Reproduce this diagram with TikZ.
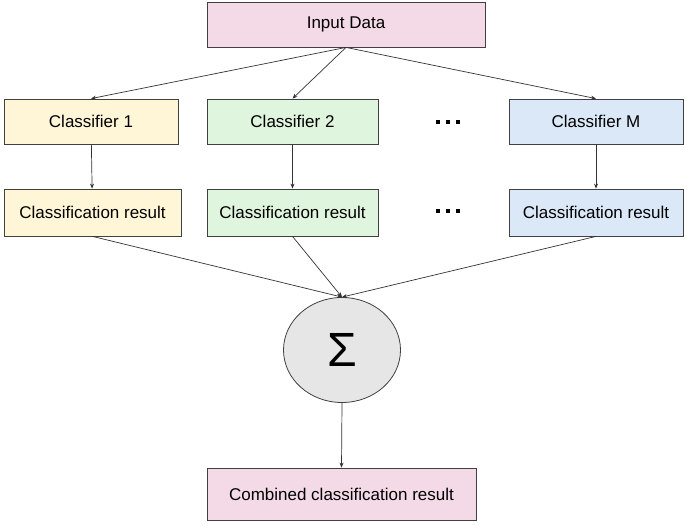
\documentclass[tikz,border=0pt]{standalone}
\usepackage{fontspec}
\setmainfont{Liberation Sans}
\usetikzlibrary{arrows.meta,shapes.geometric}
\definecolor{pinkf}{HTML}{F4DAE7}
\definecolor{yellowf}{HTML}{FFF5D7}
\definecolor{greenf}{HTML}{E0F5DD}
\definecolor{bluef}{HTML}{DBE8F8}
\definecolor{grayf}{HTML}{E6E6E6}
\definecolor{edge}{HTML}{404040}
\tikzset{
  box/.style={draw=edge, line width=0.8pt, rectangle, inner sep=0pt, font=\fontsize{17}{20}\selectfont},
  conn/.style={draw=black!80, line width=0.7pt, -{Stealth[length=5pt,width=4pt]}},
  dotmark/.style={fill=black, minimum size=4pt, inner sep=0pt, rectangle}
}
\begin{document}
\begin{tikzpicture}[x=1pt,y=-1pt]
\useasboundingbox (0,0) rectangle (685,525);
\node[box, fill=pinkf, minimum width=278pt, minimum height=45pt] (in) at (346,24.5) {Input Data};
\node[box, fill=yellowf, minimum width=174pt, minimum height=45pt] (c1) at (91,121.5) {Classifier 1};
\node[box, fill=greenf, minimum width=171pt, minimum height=45pt] (c2) at (292.5,121.5) {Classifier 2};
\node[box, fill=bluef, minimum width=174pt, minimum height=45pt] (cm) at (596,121.5) {Classifier M};
\node[box, fill=yellowf, minimum width=177pt, minimum height=47pt] (r1) at (92.5,212.5) {Classification result};
\node[box, fill=greenf, minimum width=171pt, minimum height=47pt] (r2) at (292.5,212.5) {Classification result};
\node[box, fill=bluef, minimum width=174pt, minimum height=47pt] (rm) at (596,212.5) {Classification result};
\node[draw=edge, line width=0.8pt, fill=grayf, ellipse, minimum width=117pt, minimum height=105pt, inner sep=0pt] (sum) at (342,350) {\fontsize{48}{50}\selectfont Σ};
\node[box, fill=pinkf, minimum width=269pt, minimum height=52pt] (comb) at (341.5,494) {Combined classification result};
\node[dotmark] (d1) at (437.5,122) {};
\node[dotmark] (d2) at (447.5,122) {};
\node[dotmark] (d3) at (457.5,122) {};
\node[dotmark] (e1) at (437.5,211) {};
\node[dotmark] (e2) at (447.5,211) {};
\node[dotmark] (e3) at (457.5,211) {};
\draw[conn] (in.south) -- (c1.north);
\draw[conn] (in.south) -- (c2.north);
\draw[conn] (in.south) -- (cm.north);
\draw[conn] (c1) -- (r1);
\draw[conn] (c2) -- (r2);
\draw[conn] (cm) -- (rm);
\draw[conn] (r1.south) -- (sum.north);
\draw[conn] (r2.south) -- (sum.north);
\draw[conn] (rm.south) -- (sum.north);
\draw[conn] (sum.south) -- (comb.north);
\end{tikzpicture}
\end{document}
